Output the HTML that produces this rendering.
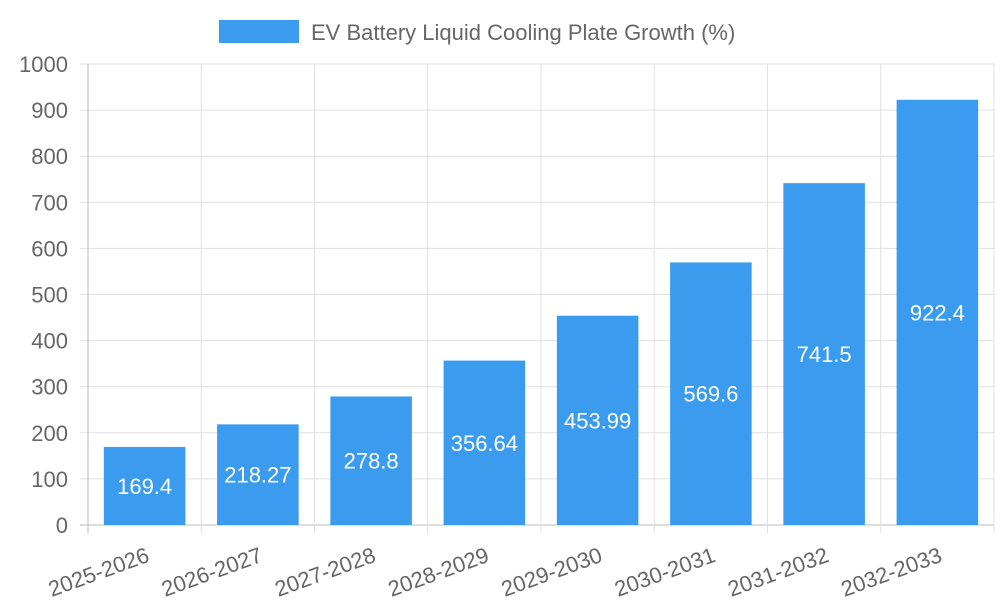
<!DOCTYPE html>
<html><head><meta charset="utf-8"><style>
body{margin:0;background:#fff;font-family:"Liberation Sans",sans-serif}
</style></head><body>
<svg id="c" width="1000" height="600" font-family="Liberation Sans, sans-serif">
<g>
<rect x="219" y="20" width="80" height="23" fill="#3a9bef"/>
<text x="311" y="40" font-size="22" fill="#666">EV Battery Liquid Cooling Plate Growth (%)</text>
</g>
<g id="grid"></g><g id="bars"></g><g id="labels"></g>
</svg>
<script>
const categories=["2025-2026","2026-2027","2027-2028","2028-2029","2029-2030","2030-2031","2031-2032","2032-2033"];
const values=[169.4,218.27,278.8,356.64,453.99,569.6,741.5,922.4];
const valueLabels=["169.4","218.27","278.8","356.64","453.99","569.6","741.5","922.4"];
const yTicks=[0,100,200,300,400,500,600,700,800,900,1000];
const NS="http://www.w3.org/2000/svg";
const L=88,R=994,T=64,B=525,yMax=1000;
const bw=(R-L)/categories.length;
const y=v=>B-(v/yMax)*(B-T);
const x=i=>L+bw*i;
function mk(tag,attrs,parent,text){const e=document.createElementNS(NS,tag);for(const k in attrs)e.setAttribute(k,attrs[k]);if(text!==undefined)e.textContent=text;parent.appendChild(e);return e;}
const g=document.getElementById('grid'),bg=document.getElementById('bars'),lg=document.getElementById('labels');
yTicks.forEach(t=>{
 const ln=mk('line',{x1:L-8,x2:R,y1:y(t),y2:y(t),stroke:t===0?'#bbb':'#e0e0e0','stroke-width':1},g);
 
 
 const tx=mk('text',{x:L-20,y:y(t)+8,'text-anchor':'end','font-size':22,fill:'#666'},g,String(t));
 
 
});
for(let i=0;i<=categories.length;i++){
 const ln=mk('line',{x1:x(i),x2:x(i),y1:T,y2:B+8,stroke:i===0?'#bbb':'#e0e0e0','stroke-width':1},g);
 
 
}
categories.forEach((c,i)=>{
 const bwid=bw*0.72,bx=x(i)+(bw-bwid)/2,top=y(values[i]);
 const r=mk('rect',{x:bx,y:top,width:bwid,height:B-top,fill:'#3a9bef'},bg);
 
 
 const vt=mk('text',{x:bx+bwid/2,y:(top+B)/2+8,'text-anchor':'middle','font-size':22,fill:'#fff'},lg,valueLabels[i]);
 
 
 const cx=x(i)+bw/2,cy=B+20;
 const xt=mk('text',{x:cx+6,y:cy+16,'text-anchor':'end','font-size':22,fill:'#666',transform:`rotate(-20 ${cx+6} ${cy+16})`},lg,c);
 
 
});
</script>
</body></html>
